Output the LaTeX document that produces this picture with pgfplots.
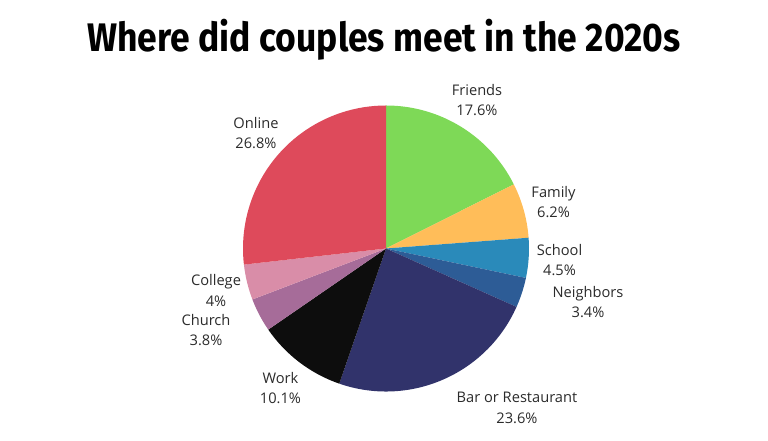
\documentclass[border=0pt]{standalone}
\usepackage{pgfplots}
\pgfplotsset{compat=1.18}
\usepackage{fontspec}
\setmainfont{Open Sans}
\newfontfamily\titlefont[FakeStretch=0.89]{Fira Sans}

\definecolor{cFriends}{HTML}{7ED957}
\definecolor{cFamily}{HTML}{FFBD59}
\definecolor{cSchool}{HTML}{2A8ABA}
\definecolor{cNeigh}{HTML}{2D5C96}
\definecolor{cBar}{HTML}{31336B}
\definecolor{cWork}{HTML}{0D0D0D}
\definecolor{cChurch}{HTML}{A66C99}
\definecolor{cCollege}{HTML}{D98DA8}
\definecolor{cOnline}{HTML}{DE4A5B}
\definecolor{txt}{HTML}{2B2B2B}

\tikzset{lbl/.style={inner sep=0pt, align=center, text=txt,
    font=\fontsize{14.7}{20.7}\selectfont}}

% one slice: share in percent, colour; runs clockwise from the top
\gdef\cum{0}
\newcommand\slice[2]{%
  \pgfmathsetmacro\sa{90-3.6*\cum}%
  \pgfmathsetmacro\newcum{\cum+#1}\xdef\cum{\newcum}%
  \pgfmathsetmacro\se{90-3.6*\cum}%
  \edef\temp{\noexpand\fill[#2] (axis cs:386,192.5) -- ++(\sa:143bp)
    arc[start angle=\sa, end angle=\se, radius=143bp] -- cycle;}%
  \temp}

\begin{document}
\begin{tikzpicture}
\begin{axis}[
  hide axis, x=1bp, y=1bp,
  xmin=0, xmax=768, ymin=0, ymax=441,
  clip=false,
]
\addplot[draw=none] coordinates {(0,0) (768,441)};
\slice{17.6}{cFriends}
\slice{6.2}{cFamily}
\slice{4.5}{cSchool}
\slice{3.4}{cNeigh}
\slice{23.6}{cBar}
\slice{10.1}{cWork}
\slice{3.8}{cChurch}
\slice{4}{cCollege}
\slice{26.8}{cOnline}

\node[lbl] at (axis cs:477,341) {Friends\\17.6\%};
\node[lbl] at (axis cs:553.5,239) {Family\\6.2\%};
\node[lbl] at (axis cs:559.5,181) {School\\4.5\%};
\node[lbl] at (axis cs:588,139) {Neighbors\\3.4\%};
\node[lbl] at (axis cs:517,33) {Bar or Restaurant\\23.6\%};
\node[lbl] at (axis cs:280.5,53) {Work\\10.1\%};
\node[lbl] at (axis cs:206,111) {Church\\3.8\%};
\node[lbl] at (axis cs:216,150.5) {College\\4\%};
\node[lbl] at (axis cs:256,308) {Online\\26.8\%};

\node[anchor=base, inner sep=0pt, text=black,
  font=\titlefont\bfseries\fontsize{40}{40}\selectfont]
  at (axis cs:384,389) {Where did couples meet in the 2020s};
\end{axis}
\end{tikzpicture}
\end{document}
